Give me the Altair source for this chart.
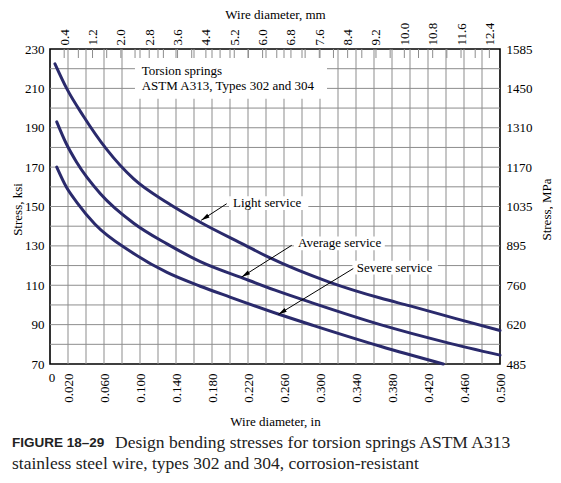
import math
import json
import altair as alt
import pandas as pd

# ---------------- data ----------------
light_d = [0.0055, 0.0185, 0.037, 0.063, 0.093, 0.13, 0.167, 0.216, 0.244, 0.311, 0.367, 0.40, 0.45, 0.50]
light_s = [222.5, 210, 196, 179, 164, 152, 142, 130.5, 124, 111.5, 103.5, 99.5, 93.2, 87]

avg_d = [0.0075, 0.018, 0.0296, 0.056, 0.093, 0.13, 0.167, 0.215, 0.25, 0.293, 0.367, 0.44, 0.50]
avg_s = [193, 182, 172.5, 156.5, 141.5, 131, 122, 113.5, 107.5, 100.8, 90, 81, 74.5]

sev_d = [0.0075, 0.018, 0.03, 0.05, 0.09, 0.13, 0.167, 0.2, 0.256, 0.293, 0.367, 0.437]
sev_s = [170, 160, 152, 141, 127, 116.5, 109.5, 104, 95, 89.5, 79, 70]

series_names = ["Light service", "Average service", "Severe service"]

ksi_labels = [70, 90, 110, 130, 150, 170, 190, 210, 230]
mpa_labels = ["485", "620", "760", "895", "1035", "1170", "1310", "1450", "1585"]
in_labels = [0.02, 0.06, 0.10, 0.14, 0.18, 0.22, 0.26, 0.30, 0.34, 0.38, 0.42, 0.46, 0.50]
mm_labels = [0.4, 1.2, 2.0, 2.8, 3.6, 4.4, 5.2, 6.0, 6.8, 7.6, 8.4, 9.2, 10.0, 10.8, 11.6, 12.4]
mm_ticks = [round(0.4 * i, 1) for i in range(1, 32)]
x_grid = [round(0.02 * i, 2) for i in range(1, 25)]
y_grid = list(range(80, 230, 10))

# annotation arrows (tail -> tip) and labels
arrow_tail_d = [0.1963, 0.2686, 0.337]
arrow_tail_s = [151.4, 130.3, 118.5]
arrow_tip_d = [0.168, 0.213, 0.2537]
arrow_tip_s = [143.0, 114.2, 95.2]
label_d = [0.2033, 0.2756, 0.3408]
label_s = [151.7, 131.3, 119.0]
label_box_d0 = [0.199, 0.271, 0.336]
label_box_d1 = [0.287, 0.372, 0.431]
label_box_s0 = [148.2, 127.8, 115.5]
label_box_s1 = [155.2, 134.8, 122.5]

note_lines = ["Torsion springs", "ASTM A313, Types 302 and 304"]
note_d = 0.1019
note_s = [218.9, 211.1]
note_box = {"d0": 0.0944, "d1": 0.3078, "s0": 204.7, "s1": 225.4}

caption_bold = "FIGURE 18\u201329"
caption_line1 = "Design bending stresses for torsion springs ASTM A313"
caption_line2 = "stainless steel wire, types 302 and 304, corrosion-resistant"

# ---------------- layout / style ----------------
W, H = 450, 315
X_MAX = 0.5
MM_MAX = 12.7
Y_MIN, Y_MAX = 70, 230
SERIF = "Liberation Serif"
SANS = "Liberation Sans"
GRID = "#8d8d8d"
CURVE = "#2a2a6c"
px_x = W / X_MAX
px_y = H / (Y_MAX - Y_MIN)


def xs():
    return alt.Scale(domain=[0, X_MAX], nice=False, zero=False)


ys = alt.Scale(domain=[Y_MIN, Y_MAX], nice=False, zero=False)

rows = []
for name, dd, ss in zip(series_names, [light_d, avg_d, sev_d], [light_s, avg_s, sev_s]):
    for d, s in zip(dd, ss):
        rows.append({"d": d, "s": s, "series": name})
curves = pd.DataFrame(rows)

angles = []
for td, ts, hd, hs in zip(arrow_tail_d, arrow_tail_s, arrow_tip_d, arrow_tip_s):
    dx = (hd - td) * px_x
    dy = -(hs - ts) * px_y
    angles.append(math.degrees(math.atan2(dx, -dy)) % 360)

arrows = pd.DataFrame({
    "td": arrow_tail_d, "ts": arrow_tail_s,
    "hd": arrow_tip_d, "hs": arrow_tip_s, "ang": angles,
})
labels = pd.DataFrame({
    "d": label_d, "s": label_s, "text": series_names,
    "d0": label_box_d0, "d1": label_box_d1, "s0": label_box_s0, "s1": label_box_s1,
})

bottom_axis = alt.Axis(
    orient="bottom", values=in_labels, format=".3f", labelAngle=270,
    labelFont=SERIF, labelFontSize=13, labelColor="black", labelPadding=9,
    ticks=False, tickSize=0, domain=False, grid=False,
    title="Wire diameter, in", titleFont=SERIF, titleFontSize=13, titleFontWeight="normal",
    titleColor="black", titleY=57, titleX=W / 2, titleBaseline="middle",
)
left_axis = alt.Axis(
    orient="left", values=ksi_labels, format="d",
    labelFont=SERIF, labelFontSize=13, labelColor="black", labelPadding=6,
    ticks=False, tickSize=0, domain=False, grid=False,
    title="Stress, ksi", titleFont=SERIF, titleFontSize=13, titleFontWeight="normal",
    titleColor="black", titleX=-33, titleY=160, titleAngle=270, titleBaseline="middle",
    titleAlign="center",
)

vgrid = alt.Chart(pd.DataFrame({"gx": x_grid})).mark_rule(color=GRID, strokeWidth=1).encode(
    x=alt.X("gx:Q", scale=xs(), axis=None))
hgrid = alt.Chart(pd.DataFrame({"gy": y_grid})).mark_rule(color=GRID, strokeWidth=1).encode(
    y=alt.Y("gy:Q", scale=ys, axis=None))

mpa_expr = json.dumps(mpa_labels) + "[round((datum.value - 70) / 20)]"
top_ticks = pd.DataFrame({"mm": mm_ticks, "a": Y_MAX, "b": Y_MAX - 9 / px_y})
top_layer = alt.Chart(top_ticks).mark_rule(color=GRID, strokeWidth=1).encode(
    x=alt.X("mm:Q", scale=alt.Scale(domain=[0, MM_MAX], nice=False, zero=False),
            axis=alt.Axis(orient="top", values=mm_labels, format=".1f", labelAngle=270,
                          labelFont=SERIF, labelFontSize=13, labelColor="black", labelPadding=4,
                          ticks=False, tickSize=0, domain=False, grid=False,
                          title="Wire diameter, mm", titleFont=SERIF, titleFontSize=13,
                          titleFontWeight="normal", titleColor="black", titleY=-35,
                          titleX=W / 2, titleBaseline="middle")),
    y=alt.Y("a:Q", scale=ys,
            axis=alt.Axis(orient="right", values=ksi_labels, labelExpr=mpa_expr,
                          labelFont=SERIF, labelFontSize=13, labelColor="black", labelPadding=6,
                          ticks=False, tickSize=0, domain=False, grid=False,
                          title="Stress, MPa", titleFont=SERIF, titleFontSize=13,
                          titleFontWeight="normal", titleColor="black", titleX=46, titleY=160,
                          titleAngle=270, titleBaseline="middle", titleAlign="center")),
    y2="b:Q")

note_rect = alt.Chart(pd.DataFrame([note_box])).mark_rect(color="white").encode(
    x=alt.X("d0:Q", scale=xs(), axis=None), x2="d1:Q",
    y=alt.Y("s0:Q", scale=ys, axis=None), y2="s1:Q")
label_rects = alt.Chart(labels).mark_rect(color="white").encode(
    x=alt.X("d0:Q", scale=xs(), axis=None), x2="d1:Q",
    y=alt.Y("s0:Q", scale=ys, axis=None), y2="s1:Q")

curve_layer = alt.Chart(curves).mark_line(
    color=CURVE, strokeWidth=3, interpolate="monotone", strokeCap="round").encode(
    x=alt.X("d:Q", scale=xs(), axis=bottom_axis),
    y=alt.Y("s:Q", scale=ys, axis=left_axis),
    detail="series:N")

arrow_lines = alt.Chart(arrows).mark_rule(color="black", strokeWidth=1).encode(
    x=alt.X("td:Q", scale=xs(), axis=None), x2="hd:Q",
    y=alt.Y("ts:Q", scale=ys, axis=None), y2="hs:Q")
arrow_heads = alt.Chart(arrows).mark_point(
    shape="M0,0L-0.45,1.8L0.45,1.8Z", filled=True, color="black", opacity=1, size=90).encode(
    x=alt.X("hd:Q", scale=xs(), axis=None),
    y=alt.Y("hs:Q", scale=ys, axis=None),
    angle=alt.Angle("ang:Q", scale=None))

label_text = alt.Chart(labels).mark_text(
    align="left", baseline="middle", font=SERIF, fontSize=13, color="black").encode(
    x=alt.X("d:Q", scale=xs(), axis=None),
    y=alt.Y("s:Q", scale=ys, axis=None),
    text="text:N")

note_text = alt.Chart(pd.DataFrame({"d": [note_d, note_d], "s": note_s, "t": note_lines})).mark_text(
    align="left", baseline="middle", font=SERIF, fontSize=13, color="black").encode(
    x=alt.X("d:Q", scale=xs(), axis=None),
    y=alt.Y("s:Q", scale=ys, axis=None),
    text="t:N")

one = pd.DataFrame({"k": [0]})
zero_label = alt.Chart(one).mark_text(
    text="0", font=SERIF, fontSize=13, color="black", align="center", baseline="middle").encode(
    x=alt.value(2), y=alt.value(H + 14))
cap_bold = alt.Chart(one).mark_text(
    text=caption_bold, font=SANS, fontSize=13.5, fontWeight="bold", color="#222222",
    align="left", baseline="middle").encode(x=alt.value(-38), y=alt.value(H + 79))
cap_1 = alt.Chart(one).mark_text(
    text=caption_line1, font=SERIF, fontSize=17.5, color="#222222",
    align="left", baseline="middle").encode(x=alt.value(65), y=alt.value(H + 79))
cap_2 = alt.Chart(one).mark_text(
    text=caption_line2, font=SERIF, fontSize=17.5, color="#222222",
    align="left", baseline="middle").encode(x=alt.value(-38), y=alt.value(H + 100))

chart = alt.layer(
    vgrid, hgrid, top_layer, note_rect, label_rects, curve_layer, arrow_lines, arrow_heads,
    label_text, note_text, zero_label, cap_bold, cap_1, cap_2
).resolve_scale(x="independent").resolve_axis(
    x="independent", y="independent"
).properties(
    width=W, height=H,
    padding={"left": 42, "top": 41, "right": 53, "bottom": 109},
    autosize=alt.AutoSizeParams(type="none"),
).configure_view(stroke="black", strokeWidth=1.6)

chart.save("out.html", embed_options={"renderer": "svg", "actions": False})
